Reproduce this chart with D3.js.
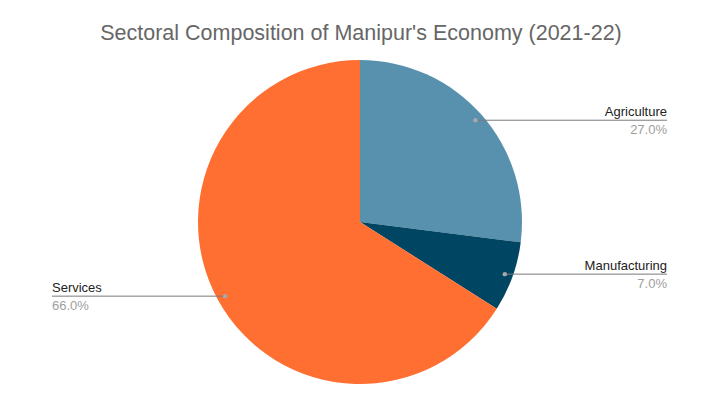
<!DOCTYPE html>
<html>
<head>
<meta charset="utf-8">
<script src="https://cdn.jsdelivr.net/npm/d3@7"></script>
<style>
  html, body { margin: 0; padding: 0; background: #fff; }
  svg { display: block; font-family: "Liberation Sans", Arial, sans-serif; }
</style>
</head>
<body>
<svg id="chart" width="720" height="405"></svg>
<script>
// chart data
var title = "Sectoral Composition of Manipur's Economy (2021-22)";
var sectors = ["Agriculture", "Manufacturing", "Services"];
var shares = [27.0, 7.0, 66.0];
var sectorColors = ["#5891ad", "#004561", "#ff6f31"];

var w = 720, h = 405;
var cx = 360, cy = 222, r = 162;
var leftX = 52, rightX = 667;

var svg = d3.select("#chart");

svg.append("rect").attr("width", w).attr("height", h).attr("fill", "#fff");

// title
svg.append("text")
    .attr("x", w / 2 + 1)
    .attr("y", 40)
    .attr("text-anchor", "middle")
    .attr("font-size", 21.5)
    .attr("fill", "#666")
    .text(title);

var data = sectors.map(function(s, i){ return {name: s, value: shares[i], color: sectorColors[i]}; });

var pie = d3.pie().sort(null).value(function(d){ return d.value; });
var arc = d3.arc().innerRadius(0).outerRadius(r);
var dotArc = d3.arc().innerRadius(r * 0.95).outerRadius(r * 0.95);

var g = svg.append("g").attr("transform", "translate(" + cx + "," + cy + ")");
var arcs = pie(data);

g.selectAll("path.slice")
    .data(arcs)
    .enter().append("path")
    .attr("class", "slice")
    .attr("d", arc)
    .attr("fill", function(d){ return d.data.color; });

// leader lines + labels
var labels = svg.append("g");
arcs.forEach(function(d){
    var c = dotArc.centroid(d);
    var px = cx + c[0], py = cy + c[1];
    var mid = (d.startAngle + d.endAngle) / 2;
    var right = mid < Math.PI;
    var ex = right ? rightX : leftX;

    labels.append("line")
        .attr("x1", px).attr("y1", py)
        .attr("x2", ex).attr("y2", py)
        .attr("stroke", "#7a7a7a")
        .attr("stroke-width", 1);

    labels.append("circle")
        .attr("cx", px).attr("cy", py)
        .attr("r", 2.2)
        .attr("fill", "#a8a8a8");

    labels.append("text")
        .attr("x", ex).attr("y", py - 4.5)
        .attr("text-anchor", right ? "end" : "start")
        .attr("font-size", 13)
        .attr("fill", "#222")
        .text(d.data.name);

    labels.append("text")
        .attr("x", ex).attr("y", py + 13.5)
        .attr("text-anchor", right ? "end" : "start")
        .attr("font-size", 13)
        .attr("fill", "#9e9e9e")
        .text(d.data.value.toFixed(1) + "%");
});
</script>
</body>
</html>
